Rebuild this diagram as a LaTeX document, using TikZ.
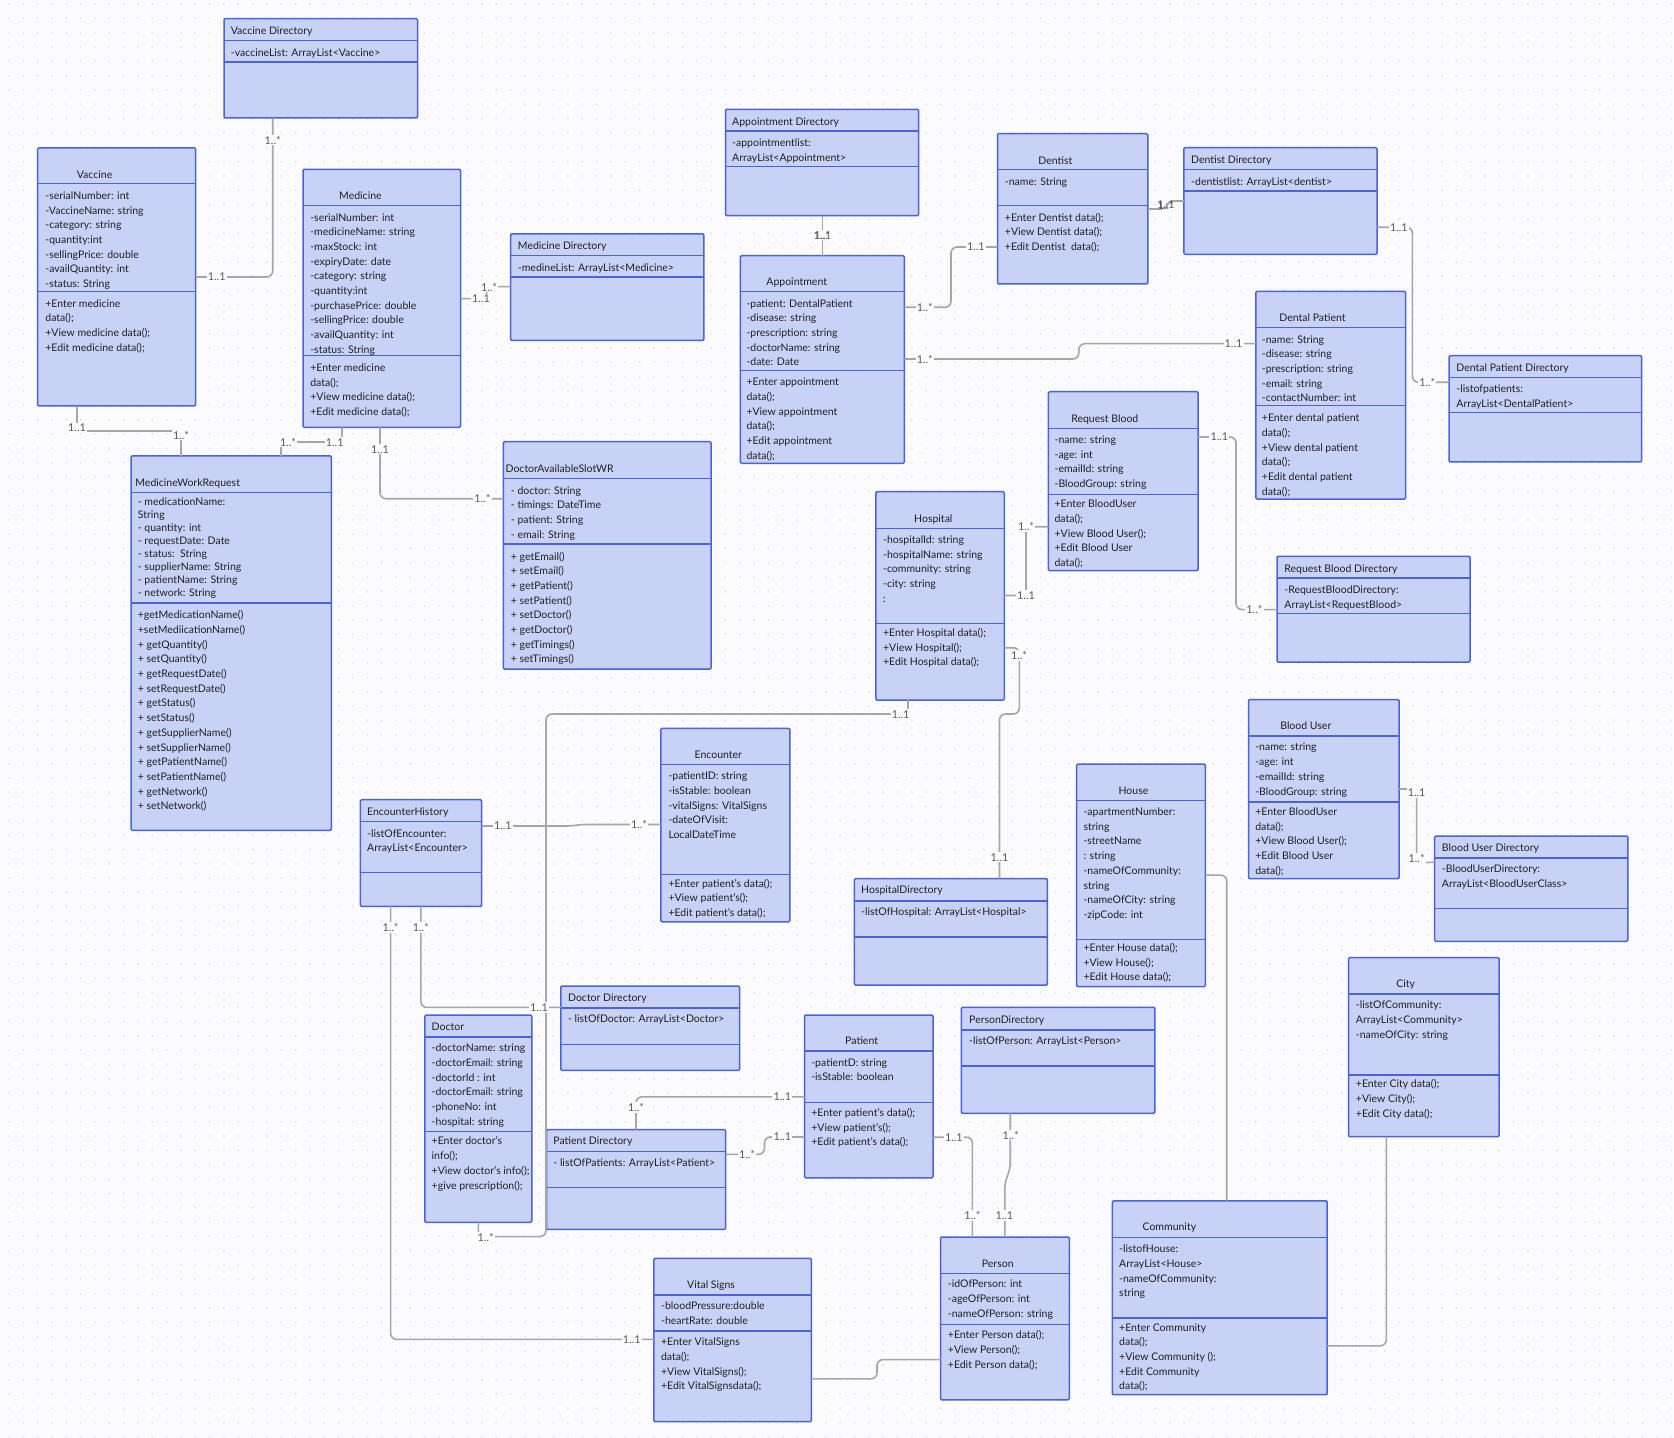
\documentclass[tikz,border=0pt]{standalone}
\usepackage{fontspec}
\setmainfont{Lato}
\definecolor{pagecol}{HTML}{FBFBFE}
\definecolor{griddot}{HTML}{E8EAF0}
\definecolor{boxfill}{HTML}{C8D2F7}
\definecolor{boxline}{HTML}{4A63D8}
\definecolor{linkcol}{HTML}{A6A6A6}
\tikzset{
  gridrow/.style={draw=griddot,line width=1.3pt,line cap=round,dash pattern=on 0pt off 7.165pt},
  classbox/.style={draw=boxline,fill=boxfill,line width=0.75pt,rounded corners=0.6pt,inner sep=0pt,outer sep=0pt},
  sepline/.style={draw=boxline,line width=0.75pt},
  umltext/.style={anchor=north west,align=left,inner sep=0pt,text=black!88},
  link/.style={draw=linkcol,line width=0.8pt,rounded corners=3pt},
  mult/.style={fill=pagecol,inner sep=0.6pt,text=black!65,font=\fontsize{5.4}{6}\selectfont},
}
% name, left, top, right, bottom, first rule, second rule
\newcommand{\classbox}[7]{
  \node[classbox,minimum width={(#4-#2)*0.5pt},minimum height={(#5-#3)*0.5pt}] (#1) at ({(#2+#4)/2},{(#3+#5)/2}) {};
  \draw[sepline] (#1.west |- 0,#6)--(#1.east |- 0,#6);
  \draw[sepline] (#1.west |- 0,#7)--(#1.east |- 0,#7);
}
% name, left, middle of first line, lines
\newcommand{\umltext}[5][7.35pt]{
  \node[umltext,font=\fontsize{5.25}{#1}\selectfont] (#2) at (#3-0.5,#4-6.6) {\strut #5};
}
\begin{document}
\begin{tikzpicture}[x=0.5pt,y=-0.5pt]
\fill[pagecol](0,0) rectangle (1674,1438);
\useasboundingbox(0,0) rectangle (1674,1438);
\foreach \j in {0,...,100}
  \draw[gridrow](9,{4+14.33*\j})--(1674,{4+14.33*\j});
%
\classbox{vaccinedir}{224}{18.7}{417.5}{118}{40.7}{62}
\umltext{vaccinedir-t}{231}{30.7}{Vaccine Directory}
\umltext{vaccinedir-a}{231}{52}{-vaccineList: ArrayList<Vaccine>}
%
\classbox{vaccine}{37.7}{148}{195.6}{406}{183.7}{291.3}
\umltext{vaccine-t}{77}{174}{Vaccine}
\umltext{vaccine-a}{45.5}{195.3}{-serialNumber: int\\-VaccineName: string\\-category: string\\-quantity:int\\-sellingPrice: double\\-availQuantity: int\\-status: String}
\umltext{vaccine-m}{45.5}{303}{+Enter medicine\\data();\\+View medicine data();\\+Edit medicine data();}
%
\classbox{medicine}{303}{169.3}{460.5}{427.3}{205.3}{355.7}
\umltext{medicine-t}{339.3}{195.7}{Medicine}
\umltext{medicine-a}{310.4}{217}{-serialNumber: int\\-medicineName: string\\-maxStock: int\\-expiryDate: date\\-category: string\\-quantity:int\\-purchasePrice: double\\-sellingPrice: double\\-availQuantity: int\\-status: String}
\umltext{medicine-m}{310.4}{367.3}{+Enter medicine\\data();\\+View medicine data();\\+Edit medicine data();}
%
\classbox{medicinedir}{510.6}{234}{703.9}{340.3}{255.7}{277}
\umltext{medicinedir-t}{518}{245.7}{Medicine Directory}
\umltext{medicinedir-a}{518}{267}{-medineList: ArrayList<Medicine>}
%
\classbox{workreq}{131}{456}{331.4}{830.3}{492.7}{603}
\umltext{workreq-t}{135.5}{482.3}{MedicineWorkRequest}
\umltext[6.5pt]{workreq-a}{138}{502.7}{- medicationName:\\String\\- quantity: int\\- requestDate: Date\\- status:\ \ String\\- supplierName: String\\- patientName: String\\- network: String}
\umltext{workreq-m}{138}{614.7}{+getMedicationName()\\+setMediicationName()\\+ getQuantity()\\+ setQuantity()\\+ getRequestDate()\\+ setRequestDate()\\+ getStatus()\\+ setStatus()\\+ getSupplierName()\\+ setSupplierName()\\+ getPatientName()\\+ setPatientName()\\+ getNetwork()\\+ setNetwork()}
%
\classbox{slotwr}{503.3}{441.7}{711}{669}{478.3}{544}
\umltext{slotwr-t}{505.7}{468}{DoctorAvailableSlotWR}
\umltext{slotwr-a}{511}{490}{- doctor: String\\- timings: DateTime\\- patient: String\\- email: String}
\umltext{slotwr-m}{511}{556}{+ getEmail()\\+ setEmail()\\+ getPatient()\\+ setPatient()\\+ setDoctor()\\+ getDoctor()\\+ getTimings()\\+ setTimings()}
%
\classbox{apptdir}{725.5}{109.3}{918.6}{215.7}{131}{166.7}
\umltext{apptdir-t}{732.3}{121}{Appointment Directory}
\umltext{apptdir-a}{732.3}{142.3}{-appointmentlist:\\ArrayList<Appointment>}
%
\classbox{appt}{740.4}{255.7}{904.3}{463.3}{291.3}{370.3}
\umltext{appt-t}{766.5}{281.7}{Appointment}
\umltext{appt-a}{746.6}{303}{-patient: DentalPatient\\-disease: string\\-prescription: string\\-doctorName: string\\-date: Date}
\umltext{appt-m}{746.6}{381.7}{+Enter appointment\\data();\\+View appointment\\data();\\+Edit appointment\\data();}
%
\classbox{dentist}{997.5}{133.7}{1147.8}{284}{169.7}{205.3}
\umltext{dentist-t}{1038.5}{160}{Dentist}
\umltext{dentist-a}{1005}{181.3}{-name: String}
\umltext{dentist-m}{1005}{217}{+Enter Dentist data();\\+View Dentist data();\\+Edit Dentist\ \ data();}
%
\classbox{dentistdir}{1183.9}{147.7}{1377}{254.3}{169.7}{191}
\umltext{dentistdir-t}{1191.3}{159.7}{Dentist Directory}
\umltext{dentistdir-a}{1191.3}{181}{-dentistlist: ArrayList<dentist>}
%
\classbox{dental}{1255.9}{291.3}{1405.6}{499}{327.3}{405.7}
\umltext{dental-t}{1279.5}{317.7}{Dental Patient}
\umltext{dental-a}{1262}{339}{-name: String\\-disease: string\\-prescription: string\\-email: string\\-contactNumber: int}
\umltext{dental-m}{1262}{417.7}{+Enter dental patient\\data();\\+View dental patient\\data();\\+Edit dental patient\\data();}
%
\classbox{dentaldir}{1449}{355.7}{1641.6}{462}{377.3}{412.7}
\umltext{dentaldir-t}{1456.5}{367.3}{Dental Patient Directory}
\umltext{dentaldir-a}{1456.5}{388.7}{-listofpatients:\\ArrayList<DentalPatient>}
%
\classbox{reqblood}{1048.4}{391.7}{1198}{570.7}{428.3}{494.3}
\umltext{reqblood-t}{1071.4}{418.3}{Request Blood}
\umltext{reqblood-a}{1054.7}{439.3}{-name: string\\-age: int\\-emailId: string\\-BloodGroup: string}
\umltext{reqblood-m}{1054.7}{503.7}{+Enter BloodUser\\data();\\+View Blood User();\\+Edit Blood User\\data();}
%
\classbox{reqblooddir}{1277}{556.3}{1470}{662}{578}{613.3}
\umltext{reqblooddir-t}{1284.5}{568}{Request Blood Directory}
\umltext{reqblooddir-a}{1284.5}{589.3}{-RequestBloodDirectory:\\ArrayList<RequestBlood>}
%
\classbox{hospital}{875.8}{491.7}{1004.3}{700}{528.3}{623.3}
\umltext{hospital-t}{914.3}{518.3}{Hospital}
\umltext{hospital-a}{883.2}{539.3}{-hospitalId: string\\-hospitalName: string\\-community: string\\-city: string\\:}
\umltext{hospital-m}{883.2}{632.4}{+Enter Hospital data();\\+View Hospital();\\+Edit Hospital data();}
%
\classbox{hospitaldir}{854.4}{878.7}{1047.4}{985}{901}{937.2}
\umltext{hospitaldir-t}{861.3}{889.9}{HospitalDirectory}
\umltext{hospitaldir-a}{861.3}{911.2}{-listOfHospital: ArrayList<Hospital>}
%
\classbox{encounter}{660.8}{728.3}{789.8}{921.8}{764.3}{874.7}
\umltext{encounter-t}{694.7}{754.3}{Encounter}
\umltext{encounter-a}{668.6}{775.7}{-patientID: string\\-isStable: boolean\\-vitalSigns: VitalSigns\\-dateOfVisit:\\LocalDateTime}
\umltext{encounter-m}{668.6}{883}{+Enter patient's data();\\+View patient's();\\+Edit patient's data();}
%
\classbox{history}{360.4}{799.7}{481.6}{906.3}{821.7}{872.7}
\umltext{history-t}{367.3}{811.3}{EncounterHistory}
\umltext{history-a}{367.3}{833}{-listOfEncounter:\\ArrayList<Encounter>}
%
\classbox{doctordir}{560.8}{986}{739.6}{1070.4}{1007.9}{1044.4}
\umltext{doctordir-t}{568.2}{997.4}{Doctor Directory}
\umltext{doctordir-a}{568.2}{1018.8}{- listOfDoctor: ArrayList<Doctor>}
%
\classbox{doctor}{424.9}{1015}{531.8}{1222.3}{1036.8}{1131.7}
\umltext{doctor-t}{431.8}{1026.3}{Doctor}
\umltext{doctor-a}{431.8}{1047.7}{-doctorName: string\\-doctorEmail: string\\-doctorId : int\\-doctorEmail: string\\-phoneNo: int\\-hospital: string}
\umltext{doctor-m}{431.8}{1140.9}{+Enter doctor's\\info();\\+View doctor's info();\\+give prescription();}
%
\classbox{patientdir}{546.5}{1129.6}{725.7}{1229.4}{1151.4}{1187.5}
\umltext{patientdir-t}{553.5}{1140.9}{Patient Directory}
\umltext{patientdir-a}{553.5}{1162.3}{- listOfPatients: ArrayList<Patient>}
%
\classbox{patient}{804.5}{1015}{933}{1177.8}{1051}{1102.7}
\umltext{patient-t}{845.3}{1040.6}{Patient}
\umltext{patient-a}{811.4}{1062}{-patientD: string\\-isStable: boolean}
\umltext{patient-m}{811.4}{1112.4}{+Enter patient's data();\\+View patient's();\\+Edit patient's data();}
%
\classbox{vital}{653.9}{1258.4}{811.4}{1421.6}{1294.9}{1331}
\umltext{vital-t}{687.3}{1284.4}{Vital Signs}
\umltext{vital-a}{661.2}{1305.8}{-bloodPressure:double\\-heartRate: double}
\umltext{vital-m}{661.2}{1341.5}{+Enter VitalSigns\\data();\\+View VitalSigns();\\+Edit VitalSignsdata();}
%
\classbox{person}{940.5}{1237}{1069.3}{1399.8}{1273.6}{1324.5}
\umltext{person-t}{982}{1262.9}{Person}
\umltext{person-a}{948}{1283.8}{-idOfPerson: int\\-ageOfPerson: int\\-nameOfPerson: string}
\umltext{person-m}{948}{1334.7}{+Enter Person data();\\+View Person();\\+Edit Person data();}
%
\classbox{persondir}{961.3}{1007.4}{1154.9}{1113.3}{1029.8}{1066}
\umltext{persondir-t}{969.3}{1019.1}{PersonDirectory}
\umltext{persondir-a}{969.3}{1040.5}{-listOfPerson: ArrayList<Person>}
%
\classbox{house}{1076.7}{764.2}{1205.4}{986.6}{800.3}{939.7}
\umltext{house-t}{1118.7}{790}{House}
\umltext{house-a}{1083.6}{811.5}{-apartmentNumber:\\string\\-streetName\\: string\\-nameOfCommunity:\\string\\-nameOfCity: string\\-zipCode: int}
\umltext{house-m}{1083.6}{947.4}{+Enter House data();\\+View House();\\+Edit House data();}
%
\classbox{blooduser}{1248.5}{699.5}{1399}{878.7}{736.2}{801.8}
\umltext{blooduser-t}{1280.4}{725.5}{Blood User}
\umltext{blooduser-a}{1255.4}{746.9}{-name: string\\-age: int\\-emailId: string\\-BloodGroup: string}
\umltext{blooduser-m}{1255.4}{811.5}{+Enter BloodUser\\data();\\+View Blood User();\\+Edit Blood User\\data();}
%
\classbox{blooddir}{1434.7}{836}{1627.8}{941.3}{857.8}{908.7}
\umltext{blooddir-t}{1442}{847}{Blood User Directory}
\umltext{blooddir-a}{1442}{868.5}{-BloodUserDirectory:\\ArrayList<BloodUserClass>}
%
\classbox{city}{1348.5}{957.6}{1499}{1136.7}{994.2}{1075.1}
\umltext{city-t}{1396.4}{983.5}{City}
\umltext{city-a}{1356}{1004.9}{-listOfCommunity:\\ArrayList<Community>\\-nameOfCity: string}
\umltext{city-m}{1356}{1083.8}{+Enter City data();\\+View City();\\+Edit City data();}
%
\classbox{community}{1112.3}{1200.8}{1327.2}{1394.7}{1237.5}{1317.9}
\umltext{community-t}{1142.7}{1226.8}{Community}
\umltext{community-a}{1119.3}{1248.6}{-listofHouse:\\ArrayList<House>\\-nameOfCommunity:\\string}
\umltext{community-m}{1119.3}{1327}{+Enter Community\\data();\\+View Community ();\\+Edit Community\\data();}
%
\draw[link](vaccine.east |- 0,277) -| (vaccinedir.south -| 272.7,0);
\node[mult](m1) at (272.7,140) {1..*};
\node[mult](m2) at (216.7,277) {1..1};
%
\draw[link](medicine.east |- 0,298.7) -- (486.7,298.7) -- (486.7,286.7) -- (medicinedir.west |- 0,286.7);
\node[mult](m3) at (489,287) {1..*};
\node[mult](m4) at (481,298.7) {1..1};
%
\draw[link](vaccine.south -| 77,0) |- (181,431) -- (workreq.north -| 181,0);
\node[mult](m5) at (77,427.7) {1..1};
\node[mult](m6) at (181,435) {1..*};
%
\draw[link](medicine.south -| 342,0) |- (281,442) -- (workreq.north -| 281,0);
\node[mult](m7) at (334.7,442.3) {1..1};
\node[mult](m8) at (288,442) {1..*};
%
\draw[link](medicine.south -| 380,0) |- (slotwr.west |- 0,498.7);
\node[mult](m9) at (380,449.3) {1..1};
\node[mult](m10) at (482.4,498.7) {1..*};
%
\draw[link](apptdir.south -| 822.4,0) -- (appt.north -| 822.4,0);
\node[mult](m11) at (822.4,235.3) {1..1};
\node[mult,fill=none](m12) at (822.4,235.3) {1..*};
%
\draw[link](appt.east |- 0,307.3) -- (951,307.3) -- (951,247) -- (dentist.west |- 0,247);
\node[mult](m13) at (924.8,307.3) {1..*};
\node[mult](m14) at (975.8,247) {1..1};
%
\draw[link](appt.east |- 0,359) -- (1078.9,359) -- (1078.9,343.7) -- (dental.west |- 0,343.7);
\node[mult](m15) at (924.8,359) {1..*};
\node[mult](m16) at (1233.5,343.7) {1..1};
%
\draw[link](dentist.east |- 0,209) -- (1167,209) -- (1167,201) -- (dentistdir.west |- 0,201);
\node[mult,fill=none](m17) at (1165.8,205) {1..1};
\node[mult,fill=none](m18) at (1165.8,205) {1..*};
%
\draw[link](dentistdir.east |- 0,227.3) -- (1412.4,227.3) -- (1412.4,382.3) -- (dentaldir.west |- 0,382.3);
\node[mult](m19) at (1398.8,227.3) {1..1};
\node[mult](m20) at (1427.3,382.3) {1..*};
%
\draw[link](reqblood.east |- 0,437) -- (1236,437) -- (1236,609.6) -- (reqblooddir.west |- 0,609.6);
\node[mult](m21) at (1219.3,437) {1..1};
\node[mult](m22) at (1254.4,609.6) {1..*};
%
\draw[link](hospital.east |- 0,595.5) -- (1026,595.5) -- (1026,526.7) -- (reqblood.west |- 0,526.7);
\node[mult](m23) at (1026,595.5) {1..1};
\node[mult](m24) at (1026,526.7) {1..*};
%
\draw[link](hospital.east |- 0,647.7) -- (1019.3,647.7) -- (1019.3,714) -- (999.5,714) -- (hospitaldir.north -| 999.5,0);
\node[mult](m25) at (1019,655.5) {1..*};
\node[mult](m26) at (999.5,857.3) {1..1};
%
\draw[link](hospital.south -| 908,0) |- (546,714) -- (546,1236.6) -| (doctor.south -| 478.4,0);
\node[mult](m27) at (900.6,714.3) {1..1};
\node[mult](m28) at (485.7,1237) {1..*};
%
\draw[link](history.east |- 0,826) -- (572.7,826) -- (580,824.5) -- (encounter.west |- 0,824.5);
\node[mult](m29) at (502.9,826) {1..1};
\node[mult](m30) at (639,824.5) {1..*};
%
\draw[link](history.south -| 390.6,0) |- (vital.west |- 0,1339.4);
\node[mult](m31) at (390.6,927.3) {1..*};
\node[mult](m32) at (631.8,1340) {1..1};
%
\draw[link](history.south -| 420.8,0) |- (doctordir.west |- 0,1007.4);
\node[mult](m33) at (420.8,927.3) {1..*};
\node[mult](m34) at (539,1007.4) {1..1};
%
\draw[link](patientdir.east |- 0,1154.3) -- (764.5,1154.3) -- (764.5,1137) -- (patient.west |- 0,1137);
\node[mult](m35) at (747,1154.3) {1..*};
\node[mult](m36) at (782.4,1137.1) {1..1};
%
\draw[link](patientdir.north -| 636,0) |- (patient.west |- 0,1096.8);
\node[mult](m37) at (636,1107.7) {1..*};
\node[mult](m38) at (782.4,1096.8) {1..1};
%
\draw[link](patient.east |- 0,1137.2) -| (person.north -| 972.4,0);
\node[mult](m39) at (953.8,1137.2) {1..1};
\node[mult](m40) at (972.4,1215.6) {1..*};
%
\draw[link](persondir.south -| 1010.2,0) -- (1010.2,1169) -- (1004.9,1182) -- (person.north -| 1004.9,0);
\node[mult](m41) at (1010.7,1135) {1..*};
\node[mult](m42) at (1004.4,1215.6) {1..1};
%
\draw[link](vital.east |- 0,1378.8) -- (877,1378.8) -- (877,1359.6) -- (person.west |- 0,1359.6);
\draw[link](house.east |- 0,875.1) -| (community.north -| 1226.7,0);
\draw[link](community.east |- 0,1345.8) -| (city.south -| 1386.3,0);
%
\draw[link](blooduser.east |- 0,789) -- (1416.6,789) -- (1416.6,862.4) -- (blooddir.west |- 0,862.4);
\node[mult](m43) at (1416.6,792.7) {1..1};
\node[mult](m44) at (1416.6,858.8) {1..*};
\end{tikzpicture}
\end{document}
